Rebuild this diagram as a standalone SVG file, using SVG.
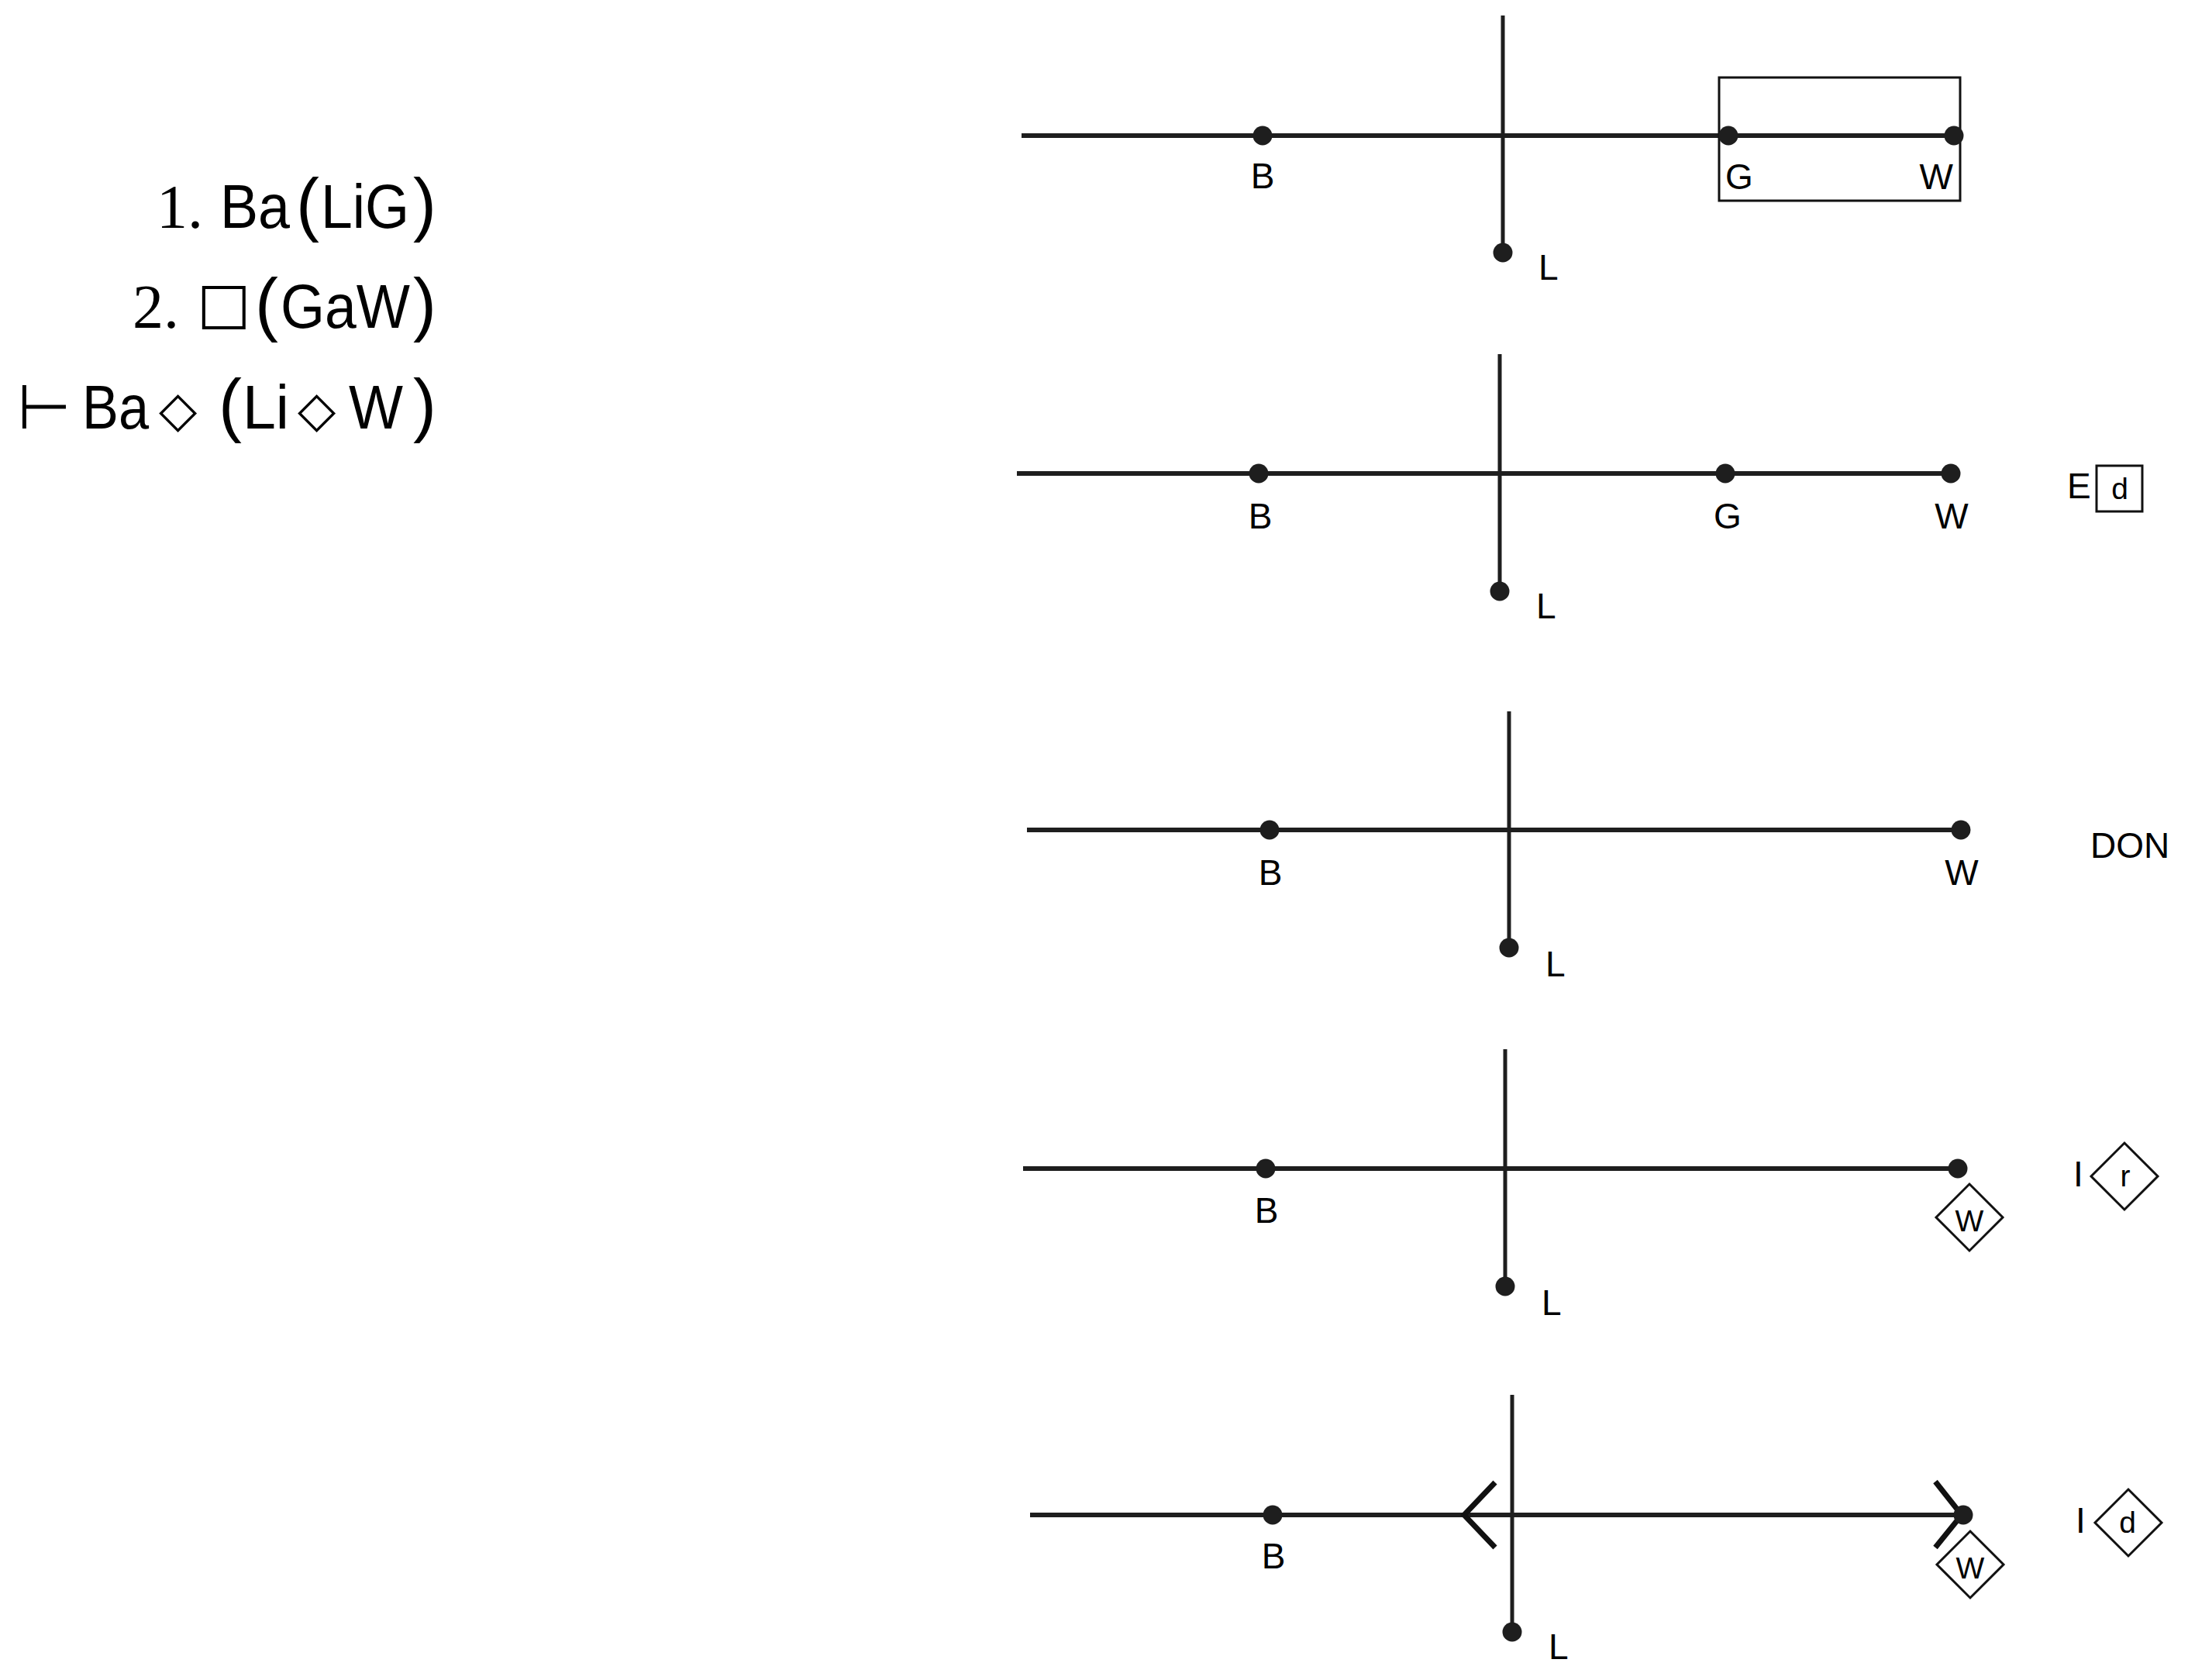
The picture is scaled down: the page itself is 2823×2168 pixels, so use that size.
<svg xmlns="http://www.w3.org/2000/svg" width="2823" height="2168" viewBox="0 0 2823 2168">
<style>
.f{font-family:"Liberation Sans",Arial,sans-serif;font-size:80px;fill:#000}
.fs{font-family:"Liberation Serif","Times New Roman",serif;font-size:80px;fill:#000}
.sym{font-family:"DejaVu Sans",sans-serif;fill:#000}
.par{font-family:"Liberation Sans",Arial,sans-serif;font-size:90px;fill:#000}
.lb{font-family:"Liberation Sans",Arial,sans-serif;font-size:46px;fill:#000}
.lbc{font-family:"Liberation Sans",Arial,sans-serif;font-size:46px;fill:#000;text-anchor:middle}
.in{font-family:"Liberation Sans",Arial,sans-serif;font-size:39px;fill:#000;text-anchor:middle}
.h{stroke:#1e1e1e;stroke-width:6;fill:none}
.v{stroke:#1e1e1e;stroke-width:5;fill:none}
.ch{stroke:#111;stroke-width:7;fill:none;stroke-linejoin:miter}
.dot{fill:#1e1e1e}
.frame{fill:none;stroke:#111;stroke-width:3}
</style>
<rect width="2823" height="2168" fill="#fff"/>

<g id="formulas">
  <g id="premise1">
    <text class="fs" x="202" y="294">1.</text>
    <text class="f" x="284" y="294" textLength="90" lengthAdjust="spacingAndGlyphs">Ba</text>
    <text class="par" x="382" y="294">(</text>
    <text class="f" x="414" y="294" textLength="114" lengthAdjust="spacingAndGlyphs">LiG</text>
    <text class="par" x="533" y="294">)</text>
  </g>
  <g id="premise2">
    <text class="fs" x="171" y="423">2.</text>
    <text class="sym" x="254" y="416" font-size="73">□</text>
    <text class="par" x="329" y="423">(</text>
    <text class="f" x="362" y="423" textLength="167" lengthAdjust="spacingAndGlyphs">GaW</text>
    <text class="par" x="533" y="423">)</text>
  </g>
  <g id="conclusion">
    <text class="sym" x="22" y="553" font-size="80">⊢</text>
    <text class="f" x="106" y="553" textLength="86" lengthAdjust="spacingAndGlyphs">Ba</text>
    <text class="sym" x="205" y="550" font-size="64">◇</text>
    <text class="par" x="282" y="553">(</text>
    <text class="f" x="313" y="553" textLength="60" lengthAdjust="spacingAndGlyphs">Li</text>
    <text class="sym" x="384" y="550" font-size="64">◇</text>
    <text class="f" x="450" y="553" textLength="70" lengthAdjust="spacingAndGlyphs">W</text>
    <text class="par" x="533" y="553">)</text>
  </g>
</g>

<g id="connectors">
  <!-- panel 1 -->
  <line class="h" x1="1318" y1="175" x2="2521" y2="175"/>
  <line class="v" x1="1939" y1="20" x2="1939" y2="326"/>
  <!-- panel 2 -->
  <line class="h" x1="1312" y1="611" x2="2517" y2="611"/>
  <line class="v" x1="1935" y1="457" x2="1935" y2="763"/>
  <!-- panel 3 -->
  <line class="h" x1="1325" y1="1071" x2="2530" y2="1071"/>
  <line class="v" x1="1947" y1="918" x2="1947" y2="1223"/>
  <!-- panel 4 -->
  <line class="h" x1="1320" y1="1508" x2="2526" y2="1508"/>
  <line class="v" x1="1942" y1="1354" x2="1942" y2="1660"/>
  <!-- panel 5 -->
  <line class="h" x1="1329" y1="1955" x2="2533" y2="1955"/>
  <line class="v" x1="1951" y1="1800" x2="1951" y2="2106"/>
  <polyline class="ch" points="1929,1913 1889,1955 1929,1997"/>
  <polyline class="ch" points="2497,1912 2531,1955 2497,1997"/>
</g>

<g id="panel1">
  <rect id="p1-box" class="frame" x="2218" y="100" width="311" height="159"/>
  <g id="p1-B"><circle class="dot" cx="1629" cy="175" r="12.5"/><text class="lbc" x="1629" y="243">B</text></g>
  <g id="p1-L"><circle class="dot" cx="1939" cy="326" r="12.5"/><text class="lb" x="1985" y="361">L</text></g>
  <g id="p1-G"><circle class="dot" cx="2230" cy="175" r="12.5"/><text class="lb" x="2226" y="244">G</text></g>
  <g id="p1-W"><circle class="dot" cx="2521" cy="175" r="12.5"/><text class="lb" x="2520" y="244" text-anchor="end">W</text></g>
</g>

<g id="panel2">
  <g id="p2-B"><circle class="dot" cx="1624" cy="611" r="12.5"/><text class="lbc" x="1626" y="682">B</text></g>
  <g id="p2-L"><circle class="dot" cx="1935" cy="763" r="12.5"/><text class="lb" x="1982" y="798">L</text></g>
  <g id="p2-G"><circle class="dot" cx="2226" cy="611" r="12.5"/><text class="lbc" x="2229" y="682">G</text></g>
  <g id="p2-W"><circle class="dot" cx="2517" cy="611" r="12.5"/><text class="lbc" x="2518" y="682">W</text></g>
  <g id="p2-rule">
    <text class="lb" x="2667" y="643">E</text>
    <rect class="frame" x="2705" y="601" width="59" height="59"/>
    <text class="in" x="2735" y="644">d</text>
  </g>
</g>

<g id="panel3">
  <g id="p3-B"><circle class="dot" cx="1638" cy="1071" r="12.5"/><text class="lbc" x="1639" y="1142">B</text></g>
  <g id="p3-L"><circle class="dot" cx="1947" cy="1223" r="12.5"/><text class="lb" x="1994" y="1260">L</text></g>
  <g id="p3-W"><circle class="dot" cx="2530" cy="1071" r="12.5"/><text class="lbc" x="2531" y="1142">W</text></g>
  <g id="p3-rule"><text class="lb" x="2697" y="1107">DON</text></g>
</g>

<g id="panel4">
  <g id="p4-B"><circle class="dot" cx="1633" cy="1508" r="12.5"/><text class="lbc" x="1634" y="1578">B</text></g>
  <g id="p4-L"><circle class="dot" cx="1942" cy="1660" r="12.5"/><text class="lb" x="1989" y="1697">L</text></g>
  <g id="p4-W"><circle class="dot" cx="2526" cy="1508" r="12.5"/>
    <polygon class="frame" points="2541,1528 2584,1571 2541,1614 2498,1571"/>
    <text class="in" x="2541" y="1589">W</text></g>
  <g id="p4-rule">
    <text class="lb" x="2675" y="1531">I</text>
    <polygon class="frame" points="2741,1475 2784,1518 2741,1561 2698,1518"/>
    <text class="in" x="2742" y="1531">r</text>
  </g>
</g>

<g id="panel5">
  <g id="p5-B"><circle class="dot" cx="1642" cy="1955" r="12.5"/><text class="lbc" x="1643" y="2024">B</text></g>
  <g id="p5-L"><circle class="dot" cx="1951" cy="2106" r="12.5"/><text class="lb" x="1998" y="2141">L</text></g>
  <g id="p5-W"><circle class="dot" cx="2533" cy="1955" r="12.5"/>
    <polygon class="frame" points="2542,1976 2585,2019 2542,2062 2499,2019"/>
    <text class="in" x="2542" y="2037">W</text></g>
  <g id="p5-rule">
    <text class="lb" x="2678" y="1978">I</text>
    <polygon class="frame" points="2746,1922 2789,1965 2746,2008 2703,1965"/>
    <text class="in" x="2745" y="1978">d</text>
  </g>
</g>
</svg>
